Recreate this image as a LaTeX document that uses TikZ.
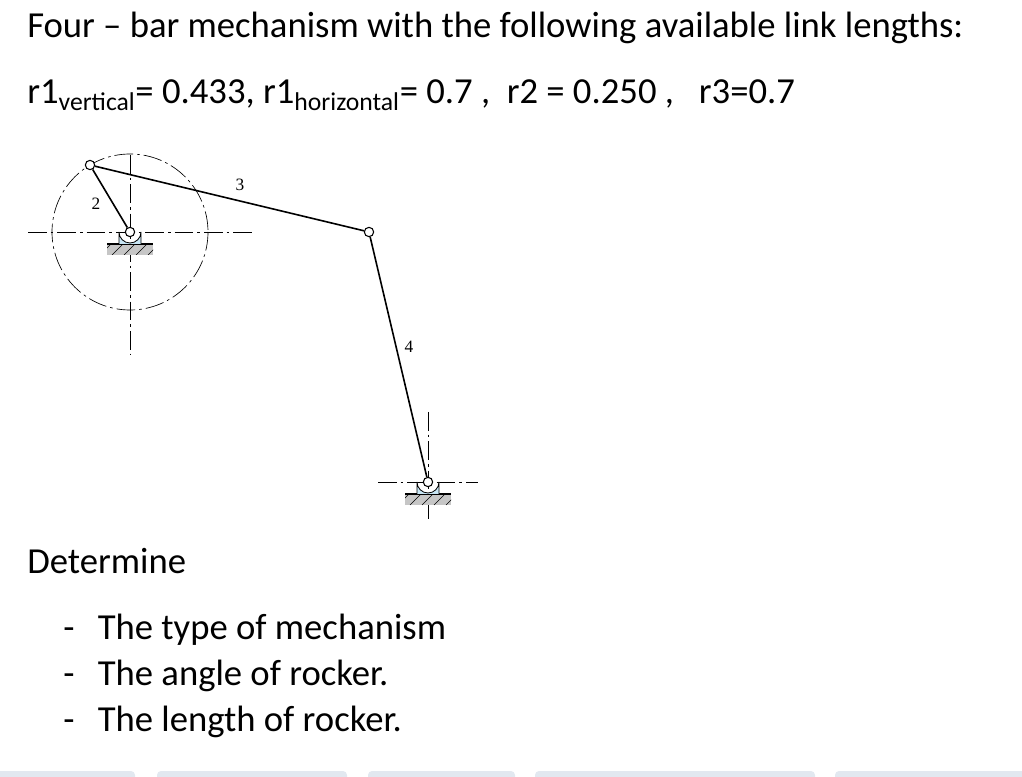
\documentclass[tikz,border=0pt]{standalone}
\usepackage{fontspec}
\setmainfont{Carlito}
\newfontfamily\serf{Liberation Serif}
\definecolor{pinblue}{RGB}{200,230,245}
\definecolor{tabc}{RGB}{226,232,240}
\begin{document}
\begin{tikzpicture}[x=0.75pt,y=-0.75pt,
  txt/.style={anchor=base west,inner sep=0pt,font=\fontsize{27.5}{32}\selectfont},
  cline/.style={line width=0.5pt,dash pattern=on 14pt off 3pt on 2pt off 3pt},
  link/.style={line width=1.2pt},
  jnt/.style={circle,draw,line width=0.8pt,fill=white,inner sep=0pt,minimum size=7pt},
  lbl/.style={font=\serf\fontsize{13}{14}\selectfont,inner sep=0pt}]
\useasboundingbox (0,0) rectangle (1022,777);
% tabs
\foreach \a/\b in {-10/135,157/347,368/515,535/815,835/1032}
  \fill[tabc,rounded corners=3pt] (\a,771) rectangle (\b,790);
% text
\node[txt] (t1) at (27,38) {Four -- bar mechanism with the following available link lengths:};
\node[txt] (t2) at (27,104) {r1\textsubscript{vertical}= 0.433, r1\textsubscript{horizontal}= 0.7 ,\ \ r2 = 0.250 ,\ \ \ r3=0.7};
\node[txt] (t3) at (27,573) {Determine};
\node[txt] (b1) at (63,639) {-\hspace{17.5pt}The type of mechanism};
\node[txt] (b2) at (63,685) {-\hspace{17.5pt}The angle of rocker.};
\node[txt] (b3) at (63,731) {-\hspace{17.5pt}The length of rocker.};
% centerlines
\coordinate (O2) at (130,232);
\coordinate (O4) at (428,482);
\draw[cline] (130,155) -- (130,355);
\draw[cline] (28,232) -- (255,232);
\draw[cline] (O2) circle[radius=78];
\draw[cline] (428,412) -- (428,520);
\draw[cline] (378,482) -- (478,482);
% grounds
\foreach \p in {O2,O4}{
  \begin{scope}[shift={(\p)}]
    \fill[gray!45] (-23,12) rectangle (23,23);
    \begin{scope}
    \clip (-23,12) rectangle (23,23);
    \foreach \k in {-30,-18,...,30} \draw[line width=0.5pt] (\k,23) -- (\k+11,12);
    \end{scope}
    \draw[line width=1.2pt] (-23,12) -- (23,12);
    \draw[line width=0.6pt,fill=pinblue] (-11,12) -- (-11,0) arc[start angle=180,end angle=0,radius=11] -- (11,12);
  \end{scope}}
% links
\node[jnt] (A) at (90,165) {};
\node[jnt] (B) at (369,232) {};
\node[jnt] (P2) at (O2) {};
\node[jnt] (P4) at (O4) {};
\draw[link] (P2) -- (A);
\draw[link] (A) -- (B);
\draw[link] (B) -- (P4);
\node[lbl] (l2) at (96,204) {2};
\node[lbl] (l3) at (240,185) {3};
\node[lbl] (l4) at (409,347) {4};
\end{tikzpicture}
\end{document}
